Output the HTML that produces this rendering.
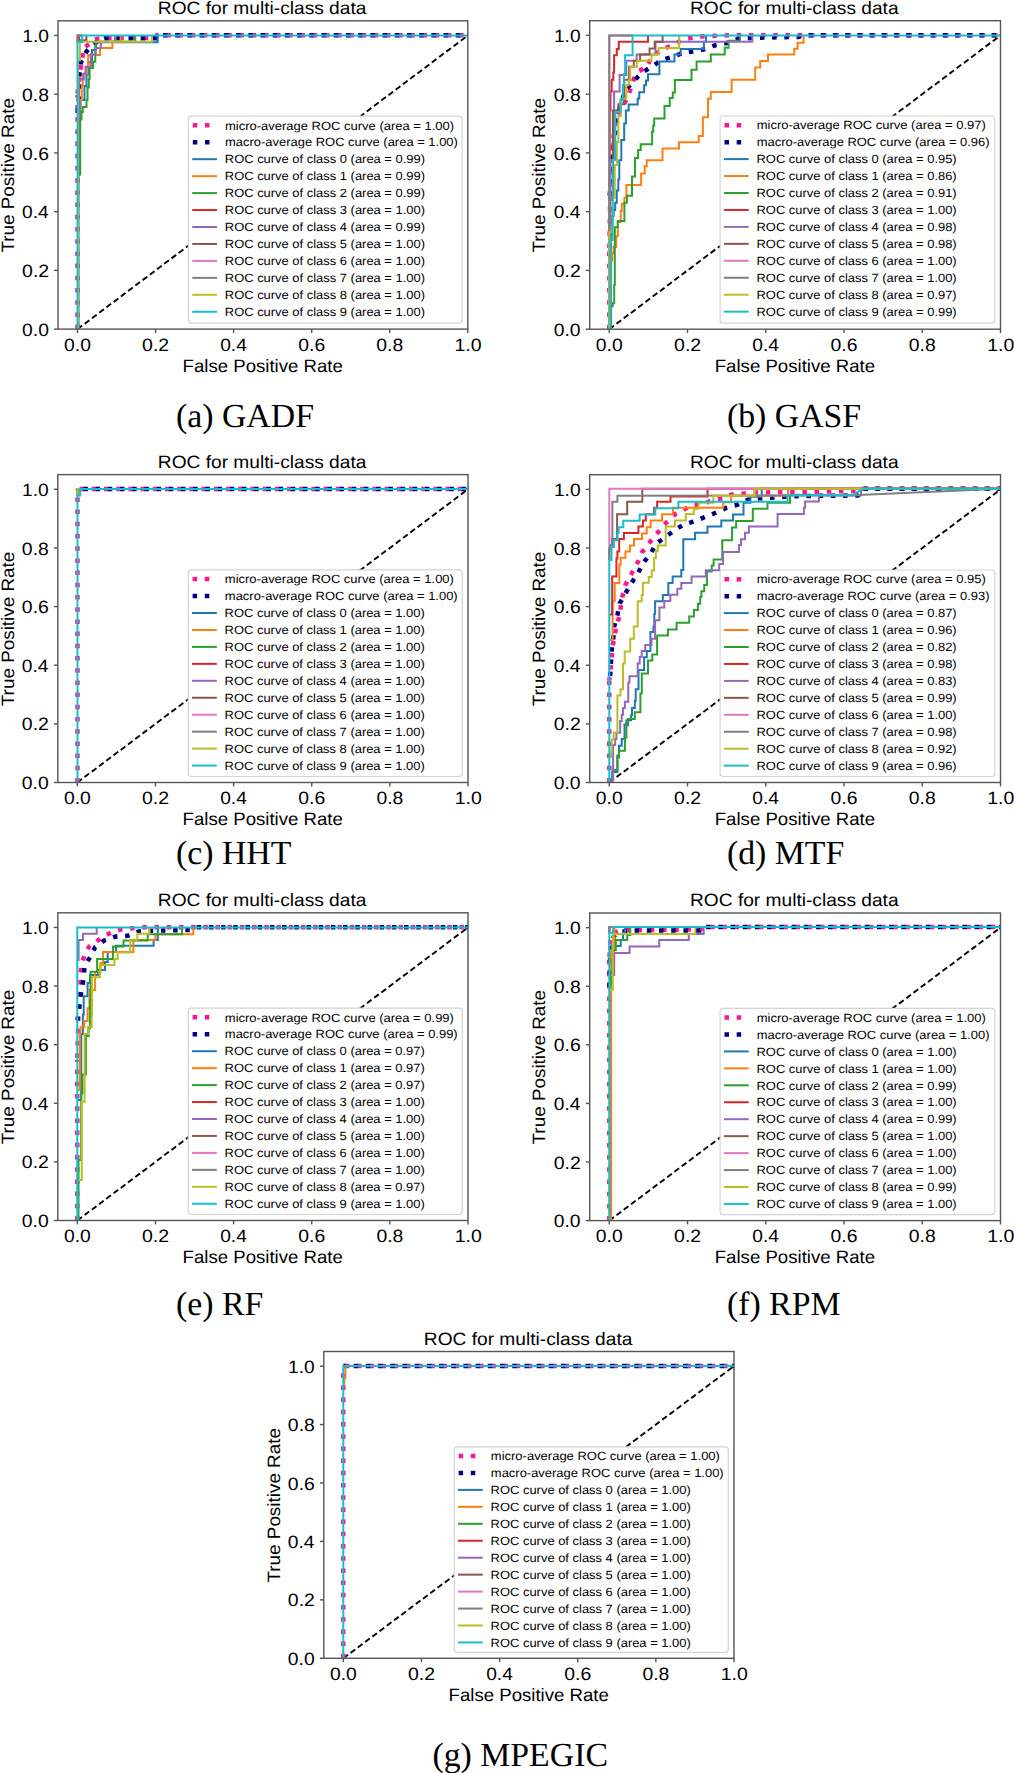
<!DOCTYPE html>
<html><head><meta charset="utf-8"><title>ROC curves</title>
<style>
html,body{margin:0;padding:0;background:#fff;}
svg{display:block;}
svg text{font-family:"Liberation Sans", sans-serif;fill:#000;text-rendering:geometricPrecision;}
svg text.cap{font-family:"Liberation Serif", serif;}
</style></head>
<body>
<svg width="1014" height="1773" viewBox="0 0 1014 1773">
<rect width="1014" height="1773" fill="#fff"/>
<clipPath id="clipa"><rect x="58" y="20.8" width="409.8" height="308.3"/></clipPath>
<g clip-path="url(#clipa)">
<line x1="77.51" y1="329.1" x2="467.8" y2="35.48" stroke="#000" stroke-width="1.9" stroke-dasharray="5.8 3.25"/>
<path d="M77.5,329.1 L77.5,95" fill="none" stroke="#ff1493" stroke-width="4.5" stroke-dasharray="4.5 7.7"/>
<path d="M77.5,95 L79,80 L80.4,69.5 L82.5,59 L82.8,48.5 L89.2,44.1 L93,40.5 L97.6,38.6 L105,37.9 L156,37.9 L157,35.3 L468.5,35.3" fill="none" stroke="#ff1493" stroke-width="4.5" stroke-dasharray="4.5 7.7" stroke-dashoffset="11.02"/>
<path d="M77.5,113 L78.8,100 L79.3,90 L79.6,73 L81.2,61.5 L86.8,51.2 L92.8,45.1 L100,39.5 L104.5,38.3 L160,38.3 L161,35.3 L468.5,35.3" fill="none" stroke="#000080" stroke-width="4.5" stroke-dasharray="4.5 7.7" stroke-dashoffset="0.09"/>
<path d="M77.5,175H77.5V175H78.6V120H80.5V100H84.5V86.1H86.5V74.5H88.5V62H92V50H95.5V42.2H157.7V35.4H157.7" fill="none" stroke="#1f77b4" stroke-width="2" stroke-linejoin="miter"/>
<path d="M77.8,150H77.8V150H79.5V100H81.8V85.7H82.8V73.9H86.5V66.4H88.2V54.9H100.1V48.1H112.4V41.8H120.6V35.4H120.6" fill="none" stroke="#ff7f0e" stroke-width="2" stroke-linejoin="miter"/>
<path d="M77.51,329.1H78.5V174.5H80.2V119H81.5V112H82.8V107H86.5V100H87.5V87.4H88.8V79H89.6V68.1H93V61.7H95.3V48.1H96V41.8H135.2V35.4H135.2" fill="none" stroke="#2ca02c" stroke-width="2" stroke-linejoin="miter"/>
<path d="M77.5,42H77.5V40.3H79.1V35.4H82" fill="none" stroke="#d62728" stroke-width="2" stroke-linejoin="miter"/>
<path d="M77.51,329.1H78.2V120H79.1V79.6H83.8V73.5H85.5V67.1H90.9V54.6H95.7V48.1H100.8V41.8H115.1V35.4H115.1" fill="none" stroke="#9467bd" stroke-width="2" stroke-linejoin="miter"/>
<path d="M77.5,42H77.5V40.3H86.4V35.4H86.4" fill="none" stroke="#8c564b" stroke-width="2" stroke-linejoin="miter"/>
<path d="M77.5,42H77.5V35.4H82" fill="none" stroke="#e377c2" stroke-width="2" stroke-linejoin="miter"/>
<path d="M77.5,42H77.5V35.4H82" fill="none" stroke="#7f7f7f" stroke-width="2" stroke-linejoin="miter"/>
<path d="M77.51,329.1H78V60.5H79.9V41.8H151.8V35.4H151.8" fill="none" stroke="#bcbd22" stroke-width="2" stroke-linejoin="miter"/>
<path d="M77.51,329.1H77.5V42H82V35.4H469.8" fill="none" stroke="#17becf" stroke-width="2" stroke-linejoin="miter"/>
</g>
<rect x="188.4" y="116.1" width="273.7" height="207" rx="3" fill="#fff" stroke="#d4d4d4" stroke-width="1.2"/>
<line x1="192.8" y1="125.3" x2="217" y2="125.3" stroke="#ff1493" stroke-width="4.5" stroke-dasharray="4.5 7.7"/>
<text x="225.06" y="129.5" font-size="12.0" textLength="229.04" lengthAdjust="spacingAndGlyphs">micro-average ROC curve (area = 1.00)</text>
<line x1="192.8" y1="142.25" x2="217" y2="142.25" stroke="#000080" stroke-width="4.5" stroke-dasharray="4.5 7.7"/>
<text x="225.06" y="146.45" font-size="12.0" textLength="232.82" lengthAdjust="spacingAndGlyphs">macro-average ROC curve (area = 1.00)</text>
<line x1="192.2" y1="159.2" x2="217" y2="159.2" stroke="#1f77b4" stroke-width="2"/>
<text x="224.83" y="163.4" font-size="12.0" textLength="200.16" lengthAdjust="spacingAndGlyphs">ROC curve of class 0 (area = 0.99)</text>
<line x1="192.2" y1="176.15" x2="217" y2="176.15" stroke="#ff7f0e" stroke-width="2"/>
<text x="224.83" y="180.35" font-size="12.0" textLength="200.16" lengthAdjust="spacingAndGlyphs">ROC curve of class 1 (area = 0.99)</text>
<line x1="192.2" y1="193.1" x2="217" y2="193.1" stroke="#2ca02c" stroke-width="2"/>
<text x="224.83" y="197.3" font-size="12.0" textLength="200.16" lengthAdjust="spacingAndGlyphs">ROC curve of class 2 (area = 0.99)</text>
<line x1="192.2" y1="210.05" x2="217" y2="210.05" stroke="#d62728" stroke-width="2"/>
<text x="224.83" y="214.25" font-size="12.0" textLength="200.16" lengthAdjust="spacingAndGlyphs">ROC curve of class 3 (area = 1.00)</text>
<line x1="192.2" y1="227" x2="217" y2="227" stroke="#9467bd" stroke-width="2"/>
<text x="224.83" y="231.2" font-size="12.0" textLength="200.16" lengthAdjust="spacingAndGlyphs">ROC curve of class 4 (area = 0.99)</text>
<line x1="192.2" y1="243.95" x2="217" y2="243.95" stroke="#8c564b" stroke-width="2"/>
<text x="224.83" y="248.15" font-size="12.0" textLength="200.16" lengthAdjust="spacingAndGlyphs">ROC curve of class 5 (area = 1.00)</text>
<line x1="192.2" y1="260.9" x2="217" y2="260.9" stroke="#e377c2" stroke-width="2"/>
<text x="224.83" y="265.1" font-size="12.0" textLength="200.16" lengthAdjust="spacingAndGlyphs">ROC curve of class 6 (area = 1.00)</text>
<line x1="192.2" y1="277.85" x2="217" y2="277.85" stroke="#7f7f7f" stroke-width="2"/>
<text x="224.83" y="282.05" font-size="12.0" textLength="200.16" lengthAdjust="spacingAndGlyphs">ROC curve of class 7 (area = 1.00)</text>
<line x1="192.2" y1="294.8" x2="217" y2="294.8" stroke="#bcbd22" stroke-width="2"/>
<text x="224.83" y="299" font-size="12.0" textLength="200.16" lengthAdjust="spacingAndGlyphs">ROC curve of class 8 (area = 1.00)</text>
<line x1="192.2" y1="311.75" x2="217" y2="311.75" stroke="#17becf" stroke-width="2"/>
<text x="224.83" y="315.95" font-size="12.0" textLength="200.16" lengthAdjust="spacingAndGlyphs">ROC curve of class 9 (area = 1.00)</text>
<rect x="58" y="20.8" width="409.8" height="308.3" fill="none" stroke="#555" stroke-width="1.4"/>
<line x1="77.51" y1="329.1" x2="77.51" y2="333" stroke="#555" stroke-width="1.4"/>
<text x="64.09" y="350.6" font-size="17.9" textLength="26.85" lengthAdjust="spacingAndGlyphs">0.0</text>
<line x1="54.1" y1="329.1" x2="58" y2="329.1" stroke="#555" stroke-width="1.4"/>
<text x="22.08" y="335.7" font-size="17.9" textLength="26.85" lengthAdjust="spacingAndGlyphs">0.0</text>
<line x1="155.57" y1="329.1" x2="155.57" y2="333" stroke="#555" stroke-width="1.4"/>
<text x="142.14" y="350.6" font-size="17.9" textLength="27.06" lengthAdjust="spacingAndGlyphs">0.2</text>
<line x1="54.1" y1="270.38" x2="58" y2="270.38" stroke="#555" stroke-width="1.4"/>
<text x="22.07" y="276.98" font-size="17.9" textLength="27.06" lengthAdjust="spacingAndGlyphs">0.2</text>
<line x1="233.63" y1="329.1" x2="233.63" y2="333" stroke="#555" stroke-width="1.4"/>
<text x="220.21" y="350.6" font-size="17.9" textLength="26.65" lengthAdjust="spacingAndGlyphs">0.4</text>
<line x1="54.1" y1="211.65" x2="58" y2="211.65" stroke="#555" stroke-width="1.4"/>
<text x="22.08" y="218.25" font-size="17.9" textLength="26.65" lengthAdjust="spacingAndGlyphs">0.4</text>
<line x1="311.69" y1="329.1" x2="311.69" y2="333" stroke="#555" stroke-width="1.4"/>
<text x="298.26" y="350.6" font-size="17.9" textLength="26.95" lengthAdjust="spacingAndGlyphs">0.6</text>
<line x1="54.1" y1="152.93" x2="58" y2="152.93" stroke="#555" stroke-width="1.4"/>
<text x="22.07" y="159.53" font-size="17.9" textLength="26.95" lengthAdjust="spacingAndGlyphs">0.6</text>
<line x1="389.74" y1="329.1" x2="389.74" y2="333" stroke="#555" stroke-width="1.4"/>
<text x="376.32" y="350.6" font-size="17.9" textLength="26.95" lengthAdjust="spacingAndGlyphs">0.8</text>
<line x1="54.1" y1="94.2" x2="58" y2="94.2" stroke="#555" stroke-width="1.4"/>
<text x="22.07" y="100.8" font-size="17.9" textLength="26.95" lengthAdjust="spacingAndGlyphs">0.8</text>
<line x1="467.8" y1="329.1" x2="467.8" y2="333" stroke="#555" stroke-width="1.4"/>
<text x="454.49" y="350.6" font-size="17.9" textLength="27.1" lengthAdjust="spacingAndGlyphs">1.0</text>
<line x1="54.1" y1="35.48" x2="58" y2="35.48" stroke="#555" stroke-width="1.4"/>
<text x="22.26" y="42.08" font-size="17.9" textLength="26.66" lengthAdjust="spacingAndGlyphs">1.0</text>
<text x="157.82" y="13.8" font-size="17.9" textLength="208.57" lengthAdjust="spacingAndGlyphs">ROC for multi-class data</text>
<text x="182.56" y="371.7" font-size="17.9" textLength="160.33" lengthAdjust="spacingAndGlyphs">False Positive Rate</text>
<text x="-77.07" y="0" font-size="17.9" textLength="154.55" lengthAdjust="spacingAndGlyphs" transform="translate(13.7 175.55) rotate(-90)">True Positive Rate</text>
<text x="176" y="427.2" class="cap" font-size="33.8" fill="#000">(a) GADF</text>
<clipPath id="clipb"><rect x="589.7" y="20.7" width="410.8" height="308.5"/></clipPath>
<g clip-path="url(#clipb)">
<line x1="609.26" y1="329.2" x2="1000.5" y2="35.39" stroke="#000" stroke-width="1.9" stroke-dasharray="5.8 3.25"/>
<path d="M609.3,329.2 L609.3,250" fill="none" stroke="#ff1493" stroke-width="4.5" stroke-dasharray="4.5 7.7"/>
<path d="M609.3,250 L610.5,180 L612,150 L615,125 L619,112 L623.1,105.7 L627.9,97.1 L631,87.6 L634.2,78.1 L638.9,71 L646.8,67.1 L650.8,58.4 L657.1,52.9 L665,48.1 L673.6,45 L682.3,39.5 L700,36.5 L730,35.3 L1001,35.3" fill="none" stroke="#ff1493" stroke-width="4.5" stroke-dasharray="4.5 7.7" stroke-dashoffset="10.17"/>
<path d="M609.4,199 L613.8,144.2 L616.9,117.3 L620.5,105 L625.5,90 L634.2,80.5 L642.1,72.6 L652.3,66.3 L661.8,60 L672.9,56.8 L683.1,52.9 L695.6,51.1 L706,49 L716.3,44.8 L727.7,42.8 L739.1,38.6 L764,37.6 L798.6,36.9 L804,35.3 L1001,35.3" fill="none" stroke="#000080" stroke-width="4.5" stroke-dasharray="4.5 7.7" stroke-dashoffset="8.86"/>
<path d="M609.26,329.2H610.7V239.3H612.2V216H613.7V210H615.2V202.8H616.8V190.6H618.3V179.4H619.3V160.2H621.3V140H624.2V123.5H625.9V110.5H628.7V104.6H637.7V98.6H639.3V92.3H644.1V85.2H646V80.5H648V74.2H659.4V61.6H674.4V54.5H680.7V48.9H703.9V41.7H706V35.4H706" fill="none" stroke="#1f77b4" stroke-width="2" stroke-linejoin="miter"/>
<path d="M609.26,329.2H610.2V260.7H612.2V253.6H613.5V247H616.2V236.3H617.8V222H620.8V211H621.8V203.8H624.4V197.7H626.4V185H641.1V173.4H644.7V166.2H646.7V160.2H662.5V148.4H679V142.2H698.7V136H702.9V117.3H708V98.7H710.8V92.1H731.6V79.7H755.2V67.4H760.2V61.1H768V54.6H794.3V48.7H797.6V42.8H803.6V35.4H803.6" fill="none" stroke="#ff7f0e" stroke-width="2" stroke-linejoin="miter"/>
<path d="M609.26,329.2H610.7V306.3H612.7V303.3H614.2V285H614.8V227.2H617.8V221.1H624.4V202.8H626.9V195.7H632V176.4H635V158.1H638.1V150H640.7V144.2H652.1V131.8H653.2V125.6H654.2V118.4H664.5V105.9H669.7V98H672.8V92.5H674.9V80.1H691.5V69.7H696.6V61.4H710.8V54.6H724.7V47.7H728.6V40.8H740V35.4H740" fill="none" stroke="#2ca02c" stroke-width="2" stroke-linejoin="miter"/>
<path d="M609.26,329.2H609.7V110.5H610.5V91.5H611.7V79.7H613.3V72.6H614.1V55.2H616.8V48.9H618.8V41.8H648V35.4H648" fill="none" stroke="#d62728" stroke-width="2" stroke-linejoin="miter"/>
<path d="M609.26,329.2H610.2V160H614.1V91.5H619.6V75H626.3V60.8H636.6V54.5H655.5V41.8H752.3V35.4H752.3" fill="none" stroke="#9467bd" stroke-width="2" stroke-linejoin="miter"/>
<path d="M609.26,329.2H609.6V200H612.9V110.5H618.4V104.2H624.3V79.7H629.1V66.7H633.8V60.8H640.1V54.5H649.6V48.5H654.7V41.8H662.6V35.4H662.6" fill="none" stroke="#8c564b" stroke-width="2" stroke-linejoin="miter"/>
<path d="M609.26,329.2H609.3V35.4H632.6" fill="none" stroke="#e377c2" stroke-width="2" stroke-linejoin="miter"/>
<path d="M609.26,329.2H609.3V35.4H632.6" fill="none" stroke="#7f7f7f" stroke-width="2" stroke-linejoin="miter"/>
<path d="M609.26,329.2H609.3V232H611.7V227H612.8V198H614.8V165H616.9V142H618.4V116H620.8V98.6H626.3V85.2H628.7V80.5H630.2V66.7H637V60.8H651.5V54.5H658.6V48.1H679.2V35.4H679.2" fill="none" stroke="#bcbd22" stroke-width="2" stroke-linejoin="miter"/>
<path d="M609.26,329.2H610.2V240H612.5V160H615.3V112H620.4V100H622.8V85H623.9V74.2H625.1V55.2H632.6V35.4H1002.5" fill="none" stroke="#17becf" stroke-width="2" stroke-linejoin="miter"/>
</g>
<rect x="720.1" y="116" width="274.7" height="207.2" rx="3" fill="#fff" stroke="#d4d4d4" stroke-width="1.2"/>
<line x1="724.5" y1="125.2" x2="748.7" y2="125.2" stroke="#ff1493" stroke-width="4.5" stroke-dasharray="4.5 7.7"/>
<text x="756.76" y="129.4" font-size="12.0" textLength="229.04" lengthAdjust="spacingAndGlyphs">micro-average ROC curve (area = 0.97)</text>
<line x1="724.5" y1="142.15" x2="748.7" y2="142.15" stroke="#000080" stroke-width="4.5" stroke-dasharray="4.5 7.7"/>
<text x="756.76" y="146.35" font-size="12.0" textLength="232.82" lengthAdjust="spacingAndGlyphs">macro-average ROC curve (area = 0.96)</text>
<line x1="723.9" y1="159.1" x2="748.7" y2="159.1" stroke="#1f77b4" stroke-width="2"/>
<text x="756.53" y="163.3" font-size="12.0" textLength="200.16" lengthAdjust="spacingAndGlyphs">ROC curve of class 0 (area = 0.95)</text>
<line x1="723.9" y1="176.05" x2="748.7" y2="176.05" stroke="#ff7f0e" stroke-width="2"/>
<text x="756.53" y="180.25" font-size="12.0" textLength="200.16" lengthAdjust="spacingAndGlyphs">ROC curve of class 1 (area = 0.86)</text>
<line x1="723.9" y1="193" x2="748.7" y2="193" stroke="#2ca02c" stroke-width="2"/>
<text x="756.53" y="197.2" font-size="12.0" textLength="200.16" lengthAdjust="spacingAndGlyphs">ROC curve of class 2 (area = 0.91)</text>
<line x1="723.9" y1="209.95" x2="748.7" y2="209.95" stroke="#d62728" stroke-width="2"/>
<text x="756.53" y="214.15" font-size="12.0" textLength="200.16" lengthAdjust="spacingAndGlyphs">ROC curve of class 3 (area = 1.00)</text>
<line x1="723.9" y1="226.9" x2="748.7" y2="226.9" stroke="#9467bd" stroke-width="2"/>
<text x="756.53" y="231.1" font-size="12.0" textLength="200.16" lengthAdjust="spacingAndGlyphs">ROC curve of class 4 (area = 0.98)</text>
<line x1="723.9" y1="243.85" x2="748.7" y2="243.85" stroke="#8c564b" stroke-width="2"/>
<text x="756.53" y="248.05" font-size="12.0" textLength="200.16" lengthAdjust="spacingAndGlyphs">ROC curve of class 5 (area = 0.98)</text>
<line x1="723.9" y1="260.8" x2="748.7" y2="260.8" stroke="#e377c2" stroke-width="2"/>
<text x="756.53" y="265" font-size="12.0" textLength="200.16" lengthAdjust="spacingAndGlyphs">ROC curve of class 6 (area = 1.00)</text>
<line x1="723.9" y1="277.75" x2="748.7" y2="277.75" stroke="#7f7f7f" stroke-width="2"/>
<text x="756.53" y="281.95" font-size="12.0" textLength="200.16" lengthAdjust="spacingAndGlyphs">ROC curve of class 7 (area = 1.00)</text>
<line x1="723.9" y1="294.7" x2="748.7" y2="294.7" stroke="#bcbd22" stroke-width="2"/>
<text x="756.53" y="298.9" font-size="12.0" textLength="200.16" lengthAdjust="spacingAndGlyphs">ROC curve of class 8 (area = 0.97)</text>
<line x1="723.9" y1="311.65" x2="748.7" y2="311.65" stroke="#17becf" stroke-width="2"/>
<text x="756.53" y="315.85" font-size="12.0" textLength="200.16" lengthAdjust="spacingAndGlyphs">ROC curve of class 9 (area = 0.99)</text>
<rect x="589.7" y="20.7" width="410.8" height="308.5" fill="none" stroke="#555" stroke-width="1.4"/>
<line x1="609.26" y1="329.2" x2="609.26" y2="333.1" stroke="#555" stroke-width="1.4"/>
<text x="595.84" y="350.7" font-size="17.9" textLength="26.85" lengthAdjust="spacingAndGlyphs">0.0</text>
<line x1="585.8" y1="329.2" x2="589.7" y2="329.2" stroke="#555" stroke-width="1.4"/>
<text x="553.78" y="335.8" font-size="17.9" textLength="26.85" lengthAdjust="spacingAndGlyphs">0.0</text>
<line x1="687.51" y1="329.2" x2="687.51" y2="333.1" stroke="#555" stroke-width="1.4"/>
<text x="674.08" y="350.7" font-size="17.9" textLength="27.06" lengthAdjust="spacingAndGlyphs">0.2</text>
<line x1="585.8" y1="270.44" x2="589.7" y2="270.44" stroke="#555" stroke-width="1.4"/>
<text x="553.77" y="277.04" font-size="17.9" textLength="27.06" lengthAdjust="spacingAndGlyphs">0.2</text>
<line x1="765.76" y1="329.2" x2="765.76" y2="333.1" stroke="#555" stroke-width="1.4"/>
<text x="752.34" y="350.7" font-size="17.9" textLength="26.65" lengthAdjust="spacingAndGlyphs">0.4</text>
<line x1="585.8" y1="211.68" x2="589.7" y2="211.68" stroke="#555" stroke-width="1.4"/>
<text x="553.78" y="218.28" font-size="17.9" textLength="26.65" lengthAdjust="spacingAndGlyphs">0.4</text>
<line x1="844" y1="329.2" x2="844" y2="333.1" stroke="#555" stroke-width="1.4"/>
<text x="830.58" y="350.7" font-size="17.9" textLength="26.95" lengthAdjust="spacingAndGlyphs">0.6</text>
<line x1="585.8" y1="152.91" x2="589.7" y2="152.91" stroke="#555" stroke-width="1.4"/>
<text x="553.77" y="159.51" font-size="17.9" textLength="26.95" lengthAdjust="spacingAndGlyphs">0.6</text>
<line x1="922.25" y1="329.2" x2="922.25" y2="333.1" stroke="#555" stroke-width="1.4"/>
<text x="908.83" y="350.7" font-size="17.9" textLength="26.95" lengthAdjust="spacingAndGlyphs">0.8</text>
<line x1="585.8" y1="94.15" x2="589.7" y2="94.15" stroke="#555" stroke-width="1.4"/>
<text x="553.77" y="100.75" font-size="17.9" textLength="26.95" lengthAdjust="spacingAndGlyphs">0.8</text>
<line x1="1000.5" y1="329.2" x2="1000.5" y2="333.1" stroke="#555" stroke-width="1.4"/>
<text x="987.19" y="350.7" font-size="17.9" textLength="27.1" lengthAdjust="spacingAndGlyphs">1.0</text>
<line x1="585.8" y1="35.39" x2="589.7" y2="35.39" stroke="#555" stroke-width="1.4"/>
<text x="553.96" y="41.99" font-size="17.9" textLength="26.66" lengthAdjust="spacingAndGlyphs">1.0</text>
<text x="690.02" y="13.7" font-size="17.9" textLength="208.57" lengthAdjust="spacingAndGlyphs">ROC for multi-class data</text>
<text x="714.76" y="371.8" font-size="17.9" textLength="160.33" lengthAdjust="spacingAndGlyphs">False Positive Rate</text>
<text x="-77.07" y="0" font-size="17.9" textLength="154.55" lengthAdjust="spacingAndGlyphs" transform="translate(545.4 175.55) rotate(-90)">True Positive Rate</text>
<text x="726.9" y="427.2" class="cap" font-size="33.8" fill="#000">(b) GASF</text>
<clipPath id="clipc"><rect x="57.8" y="474.6" width="410.2" height="307.9"/></clipPath>
<g clip-path="url(#clipc)">
<line x1="77.33" y1="782.5" x2="468" y2="489.26" stroke="#000" stroke-width="1.9" stroke-dasharray="5.8 3.25"/>
<path d="M77.5,782.5 L77.5,489" fill="none" stroke="#ff1493" stroke-width="4.5" stroke-dasharray="4.5 7.7"/>
<path d="M77.5,489 L469,489" fill="none" stroke="#ff1493" stroke-width="4.5" stroke-dasharray="4.5 7.7" stroke-dashoffset="10.1"/>
<path d="M77.5,489 L469,489" fill="none" stroke="#000080" stroke-width="4.5" stroke-dasharray="4.5 7.7" stroke-dashoffset="6.3"/>
<path d="M77.5,495.4H77.5V489H80.1" fill="none" stroke="#1f77b4" stroke-width="2" stroke-linejoin="miter"/>
<path d="M77.5,495.4H77.5V489H80.1" fill="none" stroke="#ff7f0e" stroke-width="2" stroke-linejoin="miter"/>
<path d="M77.5,495.4H77.5V489H80.1" fill="none" stroke="#2ca02c" stroke-width="2" stroke-linejoin="miter"/>
<path d="M77.5,495.4H77.5V489H80.1" fill="none" stroke="#d62728" stroke-width="2" stroke-linejoin="miter"/>
<path d="M77.5,495.4H77.5V489H80.1" fill="none" stroke="#9467bd" stroke-width="2" stroke-linejoin="miter"/>
<path d="M77.5,495.4H77.5V489H80.1" fill="none" stroke="#8c564b" stroke-width="2" stroke-linejoin="miter"/>
<path d="M77.5,495.4H77.5V489H80.1" fill="none" stroke="#e377c2" stroke-width="2" stroke-linejoin="miter"/>
<path d="M77.5,495.4H77.5V489H80.1" fill="none" stroke="#7f7f7f" stroke-width="2" stroke-linejoin="miter"/>
<path d="M77.5,495.4H77.5V489H80.1" fill="none" stroke="#bcbd22" stroke-width="2" stroke-linejoin="miter"/>
<path d="M77.33,782.5H77.5V495.4H80.1V489H470" fill="none" stroke="#17becf" stroke-width="2" stroke-linejoin="miter"/>
</g>
<rect x="188.2" y="569.9" width="274.1" height="206.6" rx="3" fill="#fff" stroke="#d4d4d4" stroke-width="1.2"/>
<line x1="192.6" y1="579.1" x2="216.8" y2="579.1" stroke="#ff1493" stroke-width="4.5" stroke-dasharray="4.5 7.7"/>
<text x="224.86" y="583.3" font-size="12.0" textLength="229.04" lengthAdjust="spacingAndGlyphs">micro-average ROC curve (area = 1.00)</text>
<line x1="192.6" y1="596.05" x2="216.8" y2="596.05" stroke="#000080" stroke-width="4.5" stroke-dasharray="4.5 7.7"/>
<text x="224.86" y="600.25" font-size="12.0" textLength="232.82" lengthAdjust="spacingAndGlyphs">macro-average ROC curve (area = 1.00)</text>
<line x1="192" y1="613" x2="216.8" y2="613" stroke="#1f77b4" stroke-width="2"/>
<text x="224.63" y="617.2" font-size="12.0" textLength="200.16" lengthAdjust="spacingAndGlyphs">ROC curve of class 0 (area = 1.00)</text>
<line x1="192" y1="629.95" x2="216.8" y2="629.95" stroke="#ff7f0e" stroke-width="2"/>
<text x="224.63" y="634.15" font-size="12.0" textLength="200.16" lengthAdjust="spacingAndGlyphs">ROC curve of class 1 (area = 1.00)</text>
<line x1="192" y1="646.9" x2="216.8" y2="646.9" stroke="#2ca02c" stroke-width="2"/>
<text x="224.63" y="651.1" font-size="12.0" textLength="200.16" lengthAdjust="spacingAndGlyphs">ROC curve of class 2 (area = 1.00)</text>
<line x1="192" y1="663.85" x2="216.8" y2="663.85" stroke="#d62728" stroke-width="2"/>
<text x="224.63" y="668.05" font-size="12.0" textLength="200.16" lengthAdjust="spacingAndGlyphs">ROC curve of class 3 (area = 1.00)</text>
<line x1="192" y1="680.8" x2="216.8" y2="680.8" stroke="#9467bd" stroke-width="2"/>
<text x="224.63" y="685" font-size="12.0" textLength="200.16" lengthAdjust="spacingAndGlyphs">ROC curve of class 4 (area = 1.00)</text>
<line x1="192" y1="697.75" x2="216.8" y2="697.75" stroke="#8c564b" stroke-width="2"/>
<text x="224.63" y="701.95" font-size="12.0" textLength="200.16" lengthAdjust="spacingAndGlyphs">ROC curve of class 5 (area = 1.00)</text>
<line x1="192" y1="714.7" x2="216.8" y2="714.7" stroke="#e377c2" stroke-width="2"/>
<text x="224.63" y="718.9" font-size="12.0" textLength="200.16" lengthAdjust="spacingAndGlyphs">ROC curve of class 6 (area = 1.00)</text>
<line x1="192" y1="731.65" x2="216.8" y2="731.65" stroke="#7f7f7f" stroke-width="2"/>
<text x="224.63" y="735.85" font-size="12.0" textLength="200.16" lengthAdjust="spacingAndGlyphs">ROC curve of class 7 (area = 1.00)</text>
<line x1="192" y1="748.6" x2="216.8" y2="748.6" stroke="#bcbd22" stroke-width="2"/>
<text x="224.63" y="752.8" font-size="12.0" textLength="200.16" lengthAdjust="spacingAndGlyphs">ROC curve of class 8 (area = 1.00)</text>
<line x1="192" y1="765.55" x2="216.8" y2="765.55" stroke="#17becf" stroke-width="2"/>
<text x="224.63" y="769.75" font-size="12.0" textLength="200.16" lengthAdjust="spacingAndGlyphs">ROC curve of class 9 (area = 1.00)</text>
<rect x="57.8" y="474.6" width="410.2" height="307.9" fill="none" stroke="#555" stroke-width="1.4"/>
<line x1="77.33" y1="782.5" x2="77.33" y2="786.4" stroke="#555" stroke-width="1.4"/>
<text x="63.91" y="804" font-size="17.9" textLength="26.85" lengthAdjust="spacingAndGlyphs">0.0</text>
<line x1="53.9" y1="782.5" x2="57.8" y2="782.5" stroke="#555" stroke-width="1.4"/>
<text x="21.88" y="789.1" font-size="17.9" textLength="26.85" lengthAdjust="spacingAndGlyphs">0.0</text>
<line x1="155.47" y1="782.5" x2="155.47" y2="786.4" stroke="#555" stroke-width="1.4"/>
<text x="142.04" y="804" font-size="17.9" textLength="27.06" lengthAdjust="spacingAndGlyphs">0.2</text>
<line x1="53.9" y1="723.85" x2="57.8" y2="723.85" stroke="#555" stroke-width="1.4"/>
<text x="21.87" y="730.45" font-size="17.9" textLength="27.06" lengthAdjust="spacingAndGlyphs">0.2</text>
<line x1="233.6" y1="782.5" x2="233.6" y2="786.4" stroke="#555" stroke-width="1.4"/>
<text x="220.18" y="804" font-size="17.9" textLength="26.65" lengthAdjust="spacingAndGlyphs">0.4</text>
<line x1="53.9" y1="665.2" x2="57.8" y2="665.2" stroke="#555" stroke-width="1.4"/>
<text x="21.88" y="671.8" font-size="17.9" textLength="26.65" lengthAdjust="spacingAndGlyphs">0.4</text>
<line x1="311.73" y1="782.5" x2="311.73" y2="786.4" stroke="#555" stroke-width="1.4"/>
<text x="298.31" y="804" font-size="17.9" textLength="26.95" lengthAdjust="spacingAndGlyphs">0.6</text>
<line x1="53.9" y1="606.56" x2="57.8" y2="606.56" stroke="#555" stroke-width="1.4"/>
<text x="21.87" y="613.16" font-size="17.9" textLength="26.95" lengthAdjust="spacingAndGlyphs">0.6</text>
<line x1="389.87" y1="782.5" x2="389.87" y2="786.4" stroke="#555" stroke-width="1.4"/>
<text x="376.44" y="804" font-size="17.9" textLength="26.95" lengthAdjust="spacingAndGlyphs">0.8</text>
<line x1="53.9" y1="547.91" x2="57.8" y2="547.91" stroke="#555" stroke-width="1.4"/>
<text x="21.87" y="554.51" font-size="17.9" textLength="26.95" lengthAdjust="spacingAndGlyphs">0.8</text>
<line x1="468" y1="782.5" x2="468" y2="786.4" stroke="#555" stroke-width="1.4"/>
<text x="454.69" y="804" font-size="17.9" textLength="27.1" lengthAdjust="spacingAndGlyphs">1.0</text>
<line x1="53.9" y1="489.26" x2="57.8" y2="489.26" stroke="#555" stroke-width="1.4"/>
<text x="22.06" y="495.86" font-size="17.9" textLength="26.66" lengthAdjust="spacingAndGlyphs">1.0</text>
<text x="157.82" y="467.6" font-size="17.9" textLength="208.57" lengthAdjust="spacingAndGlyphs">ROC for multi-class data</text>
<text x="182.56" y="825.1" font-size="17.9" textLength="160.33" lengthAdjust="spacingAndGlyphs">False Positive Rate</text>
<text x="-77.07" y="0" font-size="17.9" textLength="154.55" lengthAdjust="spacingAndGlyphs" transform="translate(13.5 629.15) rotate(-90)">True Positive Rate</text>
<text x="176" y="863.9" class="cap" font-size="33.8" fill="#000">(c) HHT</text>
<clipPath id="clipd"><rect x="589.7" y="474.7" width="410.8" height="307.8"/></clipPath>
<g clip-path="url(#clipd)">
<line x1="609.26" y1="782.5" x2="1000.5" y2="489.36" stroke="#000" stroke-width="1.9" stroke-dasharray="5.8 3.25"/>
<path d="M609.3,782.5 L609.3,680" fill="none" stroke="#ff1493" stroke-width="4.5" stroke-dasharray="4.5 7.7"/>
<path d="M609.3,680 L610.5,669.9 L611.7,658.1 L612.5,647.1 L614.5,636 L616.4,626.5 L619.2,617.1 L620.8,606.8 L622.4,596.6 L625.1,585.5 L629.3,577.5 L634,569.2 L638.1,561.5 L641.7,552.7 L647,545.6 L652.3,539.1 L658.3,532 L663.6,524.9 L670,519.5 L675.9,513.6 L684.8,509.1 L693.7,504.7 L703.5,504.2 L712.4,499.8 L722.3,498.3 L732.1,494.4 L744,493.4 L755.8,492.4 L767.6,492.4 L860,491 L862,488.7 L1001,488.7" fill="none" stroke="#ff1493" stroke-width="4.5" stroke-dasharray="4.5 7.7" stroke-dashoffset="1.72"/>
<path d="M609.5,680 L610.3,673.6 L611,661.8 L611.8,649.2 L613.4,637.3 L614.2,626.3 L617.4,615.2 L619.7,603.4 L625.2,593.9 L631.6,582.9 L637.9,573.4 L642.9,563.3 L650.6,553.8 L655.9,543.8 L664.2,537.9 L674.4,530.4 L683.8,524.4 L695.6,521 L706,516.5 L716.4,512.6 L726.7,507.7 L737.6,504.7 L747.9,499.8 L759.7,498.3 L769.6,497.8 L800,496 L858,495.5 L862,488.7 L1001,488.7" fill="none" stroke="#000080" stroke-width="4.5" stroke-dasharray="4.5 7.7" stroke-dashoffset="8.19"/>
<path d="M609.26,782.5H612.2V772H617.4V755.6H619V745.7H621.7V738.9H624.5V724.6H626.4V720.3H631.1V715.3H632V707.9H634.8V701.1H635.7V689.3H638.5V670H644.1V657.3H646.8V651H650.4V632.1H653.5V626.5H654.3V613.9H655.1V601.3H662.8V595.1H668.3V582.9H672.6V576.6H681.3V569.9H683.3V539.2H695.1V532.8H707.5V526.4H721.3V520.5H733.1V514.6H743.5V502.7H750.4V496.8H761.7V488.7H1002.5" fill="none" stroke="#1f77b4" stroke-width="2" stroke-linejoin="miter"/>
<path d="M609.3,640H609.3V640H612.6V601.3H614.7V582.9H619.3V564.5H620.7V557.7H625.4V551.5H629.9V545.6H634V539.1H642V533.4H646.7V527.2H650.6V520.4H662.1V514.2H673V507.7H723.3V502.2H731.1V495.8H788V488.7H1002.5" fill="none" stroke="#ff7f0e" stroke-width="2" stroke-linejoin="miter"/>
<path d="M609.26,782.5H612.2V778H612.8V769.9H617.4V757.5H619V750.7H624.9V737.7H626.4V725.2H628V719H634.8V712.2H640.4V693.6H641.8V673.5H648V660.5H652.3V654.6H657.1V635.6H667.9V629.4H676.6V622.7H689.2V616.4H693.9V610.1H697.9V603.8H700.2V597H701.4V591.2H704.2V584.9H706.9V571.4H711.7V565.5H713.6V559.4H722.3V540.2H732.1V527.4H736.1V521H752.8V508.7H767.5V502.8H790V495.3H861V488.7H1002.5" fill="none" stroke="#2ca02c" stroke-width="2" stroke-linejoin="miter"/>
<path d="M609.3,614.5H609.3V614.5H612.2V576.6H616.4V558.6H617.4V551.5H619.2V539.1H623.9V533.1H638.4V526.6H642.9V520.4H645.8V514.2H654.1V507.7H657.1V501.8H670.5V496.6H707.5V488.7H1002.5" fill="none" stroke="#d62728" stroke-width="2" stroke-linejoin="miter"/>
<path d="M609.26,782.5H612.5V779H613.1V745.1H615.2V738.9H616.5V732.7H620.2V720.9H621.7V714.7H623V707.9H624.9V701.7H628.3V682.4H629.5V676.3H637.7V663.6H639.7V657H641.7V651H645.2V645.1H651.5V638.8H655.1V620.2H659.4V607.6H664.3V601H670.3V594.7H677.4V588.8H681.3V582.9H691.6V576.6H705.8V570.3H719.2V563.9H723.1V552H739V545.1H741V539.2H745V532.8H748.9V526.4H777.6V514.1H803.9V507.8H805.1V501.5H818.9V495.3H861V488.7H1002.5" fill="none" stroke="#9467bd" stroke-width="2" stroke-linejoin="miter"/>
<path d="M609.3,560H609.3V550H610.6V546.2H612.1V539.1H617.1V514.2H627.2V501.8H642.3V488.7H1002.5" fill="none" stroke="#8c564b" stroke-width="2" stroke-linejoin="miter"/>
<path d="M609.3,560H609.3V488.7H1002.5" fill="none" stroke="#e377c2" stroke-width="2" stroke-linejoin="miter"/>
<path d="M609.3,560H609.3V548H610.5V545H612.4V501.8H617.4V495.8L852.7,495.3L1000.5,488.7H1002.5" fill="none" stroke="#7f7f7f" stroke-width="2" stroke-linejoin="miter"/>
<path d="M609.3,757H609.3V757H611.2V752H611.8V739.5H613.7V732.7H617.4V695.5H620.5V689.3H623V663.6H624.7V651.4H630.2V638.8H633.8V626.5H637.7V601.3H641.7V595H642.9V582.8H648.8V576.9H651.7V570.4H654.1V558H655.9V551H657.7V545.6H665.7V526.6H674.9V520.5H685.8V514.1H693.7V508.7H698.6V502.7H713.4V495.8H754.8V488.7H1002.5" fill="none" stroke="#bcbd22" stroke-width="2" stroke-linejoin="miter"/>
<path d="M609.26,782.5H609.3V560H611.5V547H613.9V540.2H617.4V533.1H618.6V527.2H623.3V520.7H639.6V514.5H655.3V508.3H678.4V501.8H787.6V495.3L852.7,495.3L861.5,489.5L870,488.7H1002.5" fill="none" stroke="#17becf" stroke-width="2" stroke-linejoin="miter"/>
</g>
<rect x="720.1" y="570" width="274.7" height="206.5" rx="3" fill="#fff" stroke="#d4d4d4" stroke-width="1.2"/>
<line x1="724.5" y1="579.2" x2="748.7" y2="579.2" stroke="#ff1493" stroke-width="4.5" stroke-dasharray="4.5 7.7"/>
<text x="756.76" y="583.4" font-size="12.0" textLength="229.04" lengthAdjust="spacingAndGlyphs">micro-average ROC curve (area = 0.95)</text>
<line x1="724.5" y1="596.15" x2="748.7" y2="596.15" stroke="#000080" stroke-width="4.5" stroke-dasharray="4.5 7.7"/>
<text x="756.76" y="600.35" font-size="12.0" textLength="232.82" lengthAdjust="spacingAndGlyphs">macro-average ROC curve (area = 0.93)</text>
<line x1="723.9" y1="613.1" x2="748.7" y2="613.1" stroke="#1f77b4" stroke-width="2"/>
<text x="756.53" y="617.3" font-size="12.0" textLength="200.16" lengthAdjust="spacingAndGlyphs">ROC curve of class 0 (area = 0.87)</text>
<line x1="723.9" y1="630.05" x2="748.7" y2="630.05" stroke="#ff7f0e" stroke-width="2"/>
<text x="756.53" y="634.25" font-size="12.0" textLength="200.16" lengthAdjust="spacingAndGlyphs">ROC curve of class 1 (area = 0.96)</text>
<line x1="723.9" y1="647" x2="748.7" y2="647" stroke="#2ca02c" stroke-width="2"/>
<text x="756.53" y="651.2" font-size="12.0" textLength="200.16" lengthAdjust="spacingAndGlyphs">ROC curve of class 2 (area = 0.82)</text>
<line x1="723.9" y1="663.95" x2="748.7" y2="663.95" stroke="#d62728" stroke-width="2"/>
<text x="756.53" y="668.15" font-size="12.0" textLength="200.16" lengthAdjust="spacingAndGlyphs">ROC curve of class 3 (area = 0.98)</text>
<line x1="723.9" y1="680.9" x2="748.7" y2="680.9" stroke="#9467bd" stroke-width="2"/>
<text x="756.53" y="685.1" font-size="12.0" textLength="200.16" lengthAdjust="spacingAndGlyphs">ROC curve of class 4 (area = 0.83)</text>
<line x1="723.9" y1="697.85" x2="748.7" y2="697.85" stroke="#8c564b" stroke-width="2"/>
<text x="756.53" y="702.05" font-size="12.0" textLength="200.16" lengthAdjust="spacingAndGlyphs">ROC curve of class 5 (area = 0.99)</text>
<line x1="723.9" y1="714.8" x2="748.7" y2="714.8" stroke="#e377c2" stroke-width="2"/>
<text x="756.53" y="719" font-size="12.0" textLength="200.16" lengthAdjust="spacingAndGlyphs">ROC curve of class 6 (area = 1.00)</text>
<line x1="723.9" y1="731.75" x2="748.7" y2="731.75" stroke="#7f7f7f" stroke-width="2"/>
<text x="756.53" y="735.95" font-size="12.0" textLength="200.16" lengthAdjust="spacingAndGlyphs">ROC curve of class 7 (area = 0.98)</text>
<line x1="723.9" y1="748.7" x2="748.7" y2="748.7" stroke="#bcbd22" stroke-width="2"/>
<text x="756.53" y="752.9" font-size="12.0" textLength="200.16" lengthAdjust="spacingAndGlyphs">ROC curve of class 8 (area = 0.92)</text>
<line x1="723.9" y1="765.65" x2="748.7" y2="765.65" stroke="#17becf" stroke-width="2"/>
<text x="756.53" y="769.85" font-size="12.0" textLength="200.16" lengthAdjust="spacingAndGlyphs">ROC curve of class 9 (area = 0.96)</text>
<rect x="589.7" y="474.7" width="410.8" height="307.8" fill="none" stroke="#555" stroke-width="1.4"/>
<line x1="609.26" y1="782.5" x2="609.26" y2="786.4" stroke="#555" stroke-width="1.4"/>
<text x="595.84" y="804" font-size="17.9" textLength="26.85" lengthAdjust="spacingAndGlyphs">0.0</text>
<line x1="585.8" y1="782.5" x2="589.7" y2="782.5" stroke="#555" stroke-width="1.4"/>
<text x="553.78" y="789.1" font-size="17.9" textLength="26.85" lengthAdjust="spacingAndGlyphs">0.0</text>
<line x1="687.51" y1="782.5" x2="687.51" y2="786.4" stroke="#555" stroke-width="1.4"/>
<text x="674.08" y="804" font-size="17.9" textLength="27.06" lengthAdjust="spacingAndGlyphs">0.2</text>
<line x1="585.8" y1="723.87" x2="589.7" y2="723.87" stroke="#555" stroke-width="1.4"/>
<text x="553.77" y="730.47" font-size="17.9" textLength="27.06" lengthAdjust="spacingAndGlyphs">0.2</text>
<line x1="765.76" y1="782.5" x2="765.76" y2="786.4" stroke="#555" stroke-width="1.4"/>
<text x="752.34" y="804" font-size="17.9" textLength="26.65" lengthAdjust="spacingAndGlyphs">0.4</text>
<line x1="585.8" y1="665.24" x2="589.7" y2="665.24" stroke="#555" stroke-width="1.4"/>
<text x="553.78" y="671.84" font-size="17.9" textLength="26.65" lengthAdjust="spacingAndGlyphs">0.4</text>
<line x1="844" y1="782.5" x2="844" y2="786.4" stroke="#555" stroke-width="1.4"/>
<text x="830.58" y="804" font-size="17.9" textLength="26.95" lengthAdjust="spacingAndGlyphs">0.6</text>
<line x1="585.8" y1="606.61" x2="589.7" y2="606.61" stroke="#555" stroke-width="1.4"/>
<text x="553.77" y="613.21" font-size="17.9" textLength="26.95" lengthAdjust="spacingAndGlyphs">0.6</text>
<line x1="922.25" y1="782.5" x2="922.25" y2="786.4" stroke="#555" stroke-width="1.4"/>
<text x="908.83" y="804" font-size="17.9" textLength="26.95" lengthAdjust="spacingAndGlyphs">0.8</text>
<line x1="585.8" y1="547.99" x2="589.7" y2="547.99" stroke="#555" stroke-width="1.4"/>
<text x="553.77" y="554.59" font-size="17.9" textLength="26.95" lengthAdjust="spacingAndGlyphs">0.8</text>
<line x1="1000.5" y1="782.5" x2="1000.5" y2="786.4" stroke="#555" stroke-width="1.4"/>
<text x="987.19" y="804" font-size="17.9" textLength="27.1" lengthAdjust="spacingAndGlyphs">1.0</text>
<line x1="585.8" y1="489.36" x2="589.7" y2="489.36" stroke="#555" stroke-width="1.4"/>
<text x="553.96" y="495.96" font-size="17.9" textLength="26.66" lengthAdjust="spacingAndGlyphs">1.0</text>
<text x="690.02" y="467.7" font-size="17.9" textLength="208.57" lengthAdjust="spacingAndGlyphs">ROC for multi-class data</text>
<text x="714.76" y="825.1" font-size="17.9" textLength="160.33" lengthAdjust="spacingAndGlyphs">False Positive Rate</text>
<text x="-77.07" y="0" font-size="17.9" textLength="154.55" lengthAdjust="spacingAndGlyphs" transform="translate(545.4 629.2) rotate(-90)">True Positive Rate</text>
<text x="726.9" y="863.9" class="cap" font-size="33.8" fill="#000">(d) MTF</text>
<clipPath id="clipe"><rect x="57.8" y="912.8" width="410.2" height="307.7"/></clipPath>
<g clip-path="url(#clipe)">
<line x1="77.33" y1="1220.5" x2="468" y2="927.45" stroke="#000" stroke-width="1.9" stroke-dasharray="5.8 3.25"/>
<path d="M77.3,1220.5 L77.3,1060" fill="none" stroke="#ff1493" stroke-width="4.5" stroke-dasharray="4.5 7.7"/>
<path d="M77.3,1060 L78.5,1010 L79.7,997 L80.5,985.1 L80.5,974.1 L82.1,962.2 L85.3,953.6 L89.2,946.5 L96.3,941.7 L103.4,936.2 L112.1,932.3 L120.8,929.5 L132.6,928.3 L144,927.3 L468.5,927.3" fill="none" stroke="#ff1493" stroke-width="4.5" stroke-dasharray="4.5 7.7" stroke-dashoffset="9.89"/>
<path d="M77.4,1020 L78.8,1013 L79.8,1001.5 L81.5,990.6 L83.7,978.4 L84.5,966.2 L90.4,956.7 L95.1,947.2 L104.2,940.5 L115.6,936.6 L127.5,935.8 L138.9,931.5 L150.7,930.7 L190,930 L194,927.3 L468.5,927.3" fill="none" stroke="#000080" stroke-width="4.5" stroke-dasharray="4.5 7.7" stroke-dashoffset="0.76"/>
<path d="M77.3,1100H77.3V1100H81.2V1034H82.9V1014.4H83.7V996.2H87.6V983.1H90V975H97.9V970H105V962H107.7V952H116V945.7H153.6V940.1H157.8V927.4H157.8" fill="none" stroke="#1f77b4" stroke-width="2" stroke-linejoin="miter"/>
<path d="M77.3,1090H77.3V1090H79.8V1033.3H80.5V1027.2H84.2V1021.1H87.6V1008.3H89.5V990H95.1V972H100.6V963H103V952H133.4V940.1H155.4V934.2H193.3V927.4H193.3" fill="none" stroke="#ff7f0e" stroke-width="2" stroke-linejoin="miter"/>
<path d="M77.33,1220.5H78.5V1160H81.2V1093.6H82.5V1074.6H85.9V1036H88.6V1027.9H89.9V1000H90.6V971.7H97.1V959.1H112.9V946.5H123.5V940.5H147.7V934.2H182V927.4H182" fill="none" stroke="#2ca02c" stroke-width="2" stroke-linejoin="miter"/>
<path d="M77.3,927.4H77.3V927.4H77.3" fill="none" stroke="#d62728" stroke-width="2" stroke-linejoin="miter"/>
<path d="M77.3,960H77.3V960H78.6V940.1H82.9V933.8H96.7V927.4H96.7" fill="none" stroke="#9467bd" stroke-width="2" stroke-linejoin="miter"/>
<path d="M77.3,927.4H77.3V927.4H77.3" fill="none" stroke="#8c564b" stroke-width="2" stroke-linejoin="miter"/>
<path d="M77.3,927.4H77.3V927.4H77.3" fill="none" stroke="#e377c2" stroke-width="2" stroke-linejoin="miter"/>
<path d="M77.3,927.4H77.3V927.4H77.3" fill="none" stroke="#7f7f7f" stroke-width="2" stroke-linejoin="miter"/>
<path d="M77.3,1180H77.3V1180H81.8V1101.7H84.6V1034H88V1027H91.7V1015H92V977.2H99.9V965H114.4V959H117.6V952.4H130.2V939.8H137.3V933.8H149.6V927.4H149.6" fill="none" stroke="#bcbd22" stroke-width="2" stroke-linejoin="miter"/>
<path d="M77.33,1220.5H77.3V927.4H470" fill="none" stroke="#17becf" stroke-width="2" stroke-linejoin="miter"/>
</g>
<rect x="188.2" y="1008.1" width="274.1" height="206.4" rx="3" fill="#fff" stroke="#d4d4d4" stroke-width="1.2"/>
<line x1="192.6" y1="1017.3" x2="216.8" y2="1017.3" stroke="#ff1493" stroke-width="4.5" stroke-dasharray="4.5 7.7"/>
<text x="224.86" y="1021.5" font-size="12.0" textLength="229.04" lengthAdjust="spacingAndGlyphs">micro-average ROC curve (area = 0.99)</text>
<line x1="192.6" y1="1034.25" x2="216.8" y2="1034.25" stroke="#000080" stroke-width="4.5" stroke-dasharray="4.5 7.7"/>
<text x="224.86" y="1038.45" font-size="12.0" textLength="232.82" lengthAdjust="spacingAndGlyphs">macro-average ROC curve (area = 0.99)</text>
<line x1="192" y1="1051.2" x2="216.8" y2="1051.2" stroke="#1f77b4" stroke-width="2"/>
<text x="224.63" y="1055.4" font-size="12.0" textLength="200.16" lengthAdjust="spacingAndGlyphs">ROC curve of class 0 (area = 0.97)</text>
<line x1="192" y1="1068.15" x2="216.8" y2="1068.15" stroke="#ff7f0e" stroke-width="2"/>
<text x="224.63" y="1072.35" font-size="12.0" textLength="200.16" lengthAdjust="spacingAndGlyphs">ROC curve of class 1 (area = 0.97)</text>
<line x1="192" y1="1085.1" x2="216.8" y2="1085.1" stroke="#2ca02c" stroke-width="2"/>
<text x="224.63" y="1089.3" font-size="12.0" textLength="200.16" lengthAdjust="spacingAndGlyphs">ROC curve of class 2 (area = 0.97)</text>
<line x1="192" y1="1102.05" x2="216.8" y2="1102.05" stroke="#d62728" stroke-width="2"/>
<text x="224.63" y="1106.25" font-size="12.0" textLength="200.16" lengthAdjust="spacingAndGlyphs">ROC curve of class 3 (area = 1.00)</text>
<line x1="192" y1="1119" x2="216.8" y2="1119" stroke="#9467bd" stroke-width="2"/>
<text x="224.63" y="1123.2" font-size="12.0" textLength="200.16" lengthAdjust="spacingAndGlyphs">ROC curve of class 4 (area = 1.00)</text>
<line x1="192" y1="1135.95" x2="216.8" y2="1135.95" stroke="#8c564b" stroke-width="2"/>
<text x="224.63" y="1140.15" font-size="12.0" textLength="200.16" lengthAdjust="spacingAndGlyphs">ROC curve of class 5 (area = 1.00)</text>
<line x1="192" y1="1152.9" x2="216.8" y2="1152.9" stroke="#e377c2" stroke-width="2"/>
<text x="224.63" y="1157.1" font-size="12.0" textLength="200.16" lengthAdjust="spacingAndGlyphs">ROC curve of class 6 (area = 1.00)</text>
<line x1="192" y1="1169.85" x2="216.8" y2="1169.85" stroke="#7f7f7f" stroke-width="2"/>
<text x="224.63" y="1174.05" font-size="12.0" textLength="200.16" lengthAdjust="spacingAndGlyphs">ROC curve of class 7 (area = 1.00)</text>
<line x1="192" y1="1186.8" x2="216.8" y2="1186.8" stroke="#bcbd22" stroke-width="2"/>
<text x="224.63" y="1191" font-size="12.0" textLength="200.16" lengthAdjust="spacingAndGlyphs">ROC curve of class 8 (area = 0.97)</text>
<line x1="192" y1="1203.75" x2="216.8" y2="1203.75" stroke="#17becf" stroke-width="2"/>
<text x="224.63" y="1207.95" font-size="12.0" textLength="200.16" lengthAdjust="spacingAndGlyphs">ROC curve of class 9 (area = 1.00)</text>
<rect x="57.8" y="912.8" width="410.2" height="307.7" fill="none" stroke="#555" stroke-width="1.4"/>
<line x1="77.33" y1="1220.5" x2="77.33" y2="1224.4" stroke="#555" stroke-width="1.4"/>
<text x="63.91" y="1242" font-size="17.9" textLength="26.85" lengthAdjust="spacingAndGlyphs">0.0</text>
<line x1="53.9" y1="1220.5" x2="57.8" y2="1220.5" stroke="#555" stroke-width="1.4"/>
<text x="21.88" y="1227.1" font-size="17.9" textLength="26.85" lengthAdjust="spacingAndGlyphs">0.0</text>
<line x1="155.47" y1="1220.5" x2="155.47" y2="1224.4" stroke="#555" stroke-width="1.4"/>
<text x="142.04" y="1242" font-size="17.9" textLength="27.06" lengthAdjust="spacingAndGlyphs">0.2</text>
<line x1="53.9" y1="1161.89" x2="57.8" y2="1161.89" stroke="#555" stroke-width="1.4"/>
<text x="21.87" y="1168.49" font-size="17.9" textLength="27.06" lengthAdjust="spacingAndGlyphs">0.2</text>
<line x1="233.6" y1="1220.5" x2="233.6" y2="1224.4" stroke="#555" stroke-width="1.4"/>
<text x="220.18" y="1242" font-size="17.9" textLength="26.65" lengthAdjust="spacingAndGlyphs">0.4</text>
<line x1="53.9" y1="1103.28" x2="57.8" y2="1103.28" stroke="#555" stroke-width="1.4"/>
<text x="21.88" y="1109.88" font-size="17.9" textLength="26.65" lengthAdjust="spacingAndGlyphs">0.4</text>
<line x1="311.73" y1="1220.5" x2="311.73" y2="1224.4" stroke="#555" stroke-width="1.4"/>
<text x="298.31" y="1242" font-size="17.9" textLength="26.95" lengthAdjust="spacingAndGlyphs">0.6</text>
<line x1="53.9" y1="1044.67" x2="57.8" y2="1044.67" stroke="#555" stroke-width="1.4"/>
<text x="21.87" y="1051.27" font-size="17.9" textLength="26.95" lengthAdjust="spacingAndGlyphs">0.6</text>
<line x1="389.87" y1="1220.5" x2="389.87" y2="1224.4" stroke="#555" stroke-width="1.4"/>
<text x="376.44" y="1242" font-size="17.9" textLength="26.95" lengthAdjust="spacingAndGlyphs">0.8</text>
<line x1="53.9" y1="986.06" x2="57.8" y2="986.06" stroke="#555" stroke-width="1.4"/>
<text x="21.87" y="992.66" font-size="17.9" textLength="26.95" lengthAdjust="spacingAndGlyphs">0.8</text>
<line x1="468" y1="1220.5" x2="468" y2="1224.4" stroke="#555" stroke-width="1.4"/>
<text x="454.69" y="1242" font-size="17.9" textLength="27.1" lengthAdjust="spacingAndGlyphs">1.0</text>
<line x1="53.9" y1="927.45" x2="57.8" y2="927.45" stroke="#555" stroke-width="1.4"/>
<text x="22.06" y="934.05" font-size="17.9" textLength="26.66" lengthAdjust="spacingAndGlyphs">1.0</text>
<text x="157.82" y="905.8" font-size="17.9" textLength="208.57" lengthAdjust="spacingAndGlyphs">ROC for multi-class data</text>
<text x="182.56" y="1263.1" font-size="17.9" textLength="160.33" lengthAdjust="spacingAndGlyphs">False Positive Rate</text>
<text x="-77.07" y="0" font-size="17.9" textLength="154.55" lengthAdjust="spacingAndGlyphs" transform="translate(13.5 1067.25) rotate(-90)">True Positive Rate</text>
<text x="176" y="1314.6" class="cap" font-size="33.8" fill="#000">(e) RF</text>
<clipPath id="clipf"><rect x="589.7" y="913" width="410.8" height="307.6"/></clipPath>
<g clip-path="url(#clipf)">
<line x1="609.26" y1="1220.6" x2="1000.5" y2="927.65" stroke="#000" stroke-width="1.9" stroke-dasharray="5.8 3.25"/>
<path d="M609.3,1220.6 L609.3,960" fill="none" stroke="#ff1493" stroke-width="4.5" stroke-dasharray="4.5 7.7"/>
<path d="M609.3,960 L610.5,940 L614,933 L620,930.5 L640,930 L700,929.5 L705,926.9 L1001,926.9" fill="none" stroke="#ff1493" stroke-width="4.5" stroke-dasharray="4.5 7.7" stroke-dashoffset="8.99"/>
<path d="M609.4,988 L610,960 L611,945 L614,936 L620,932 L630,930.5 L700,930.5 L703,926.9 L1001,926.9" fill="none" stroke="#000080" stroke-width="4.5" stroke-dasharray="4.5 7.7" stroke-dashoffset="10.96"/>
<path d="M609.26,1220.6H609.8V990H612V946H620.7V939.9H623V933H625V926.9H625" fill="none" stroke="#1f77b4" stroke-width="2" stroke-linejoin="miter"/>
<path d="M609.26,1220.6H611.2V950H614.5V926.9H614.5" fill="none" stroke="#ff7f0e" stroke-width="2" stroke-linejoin="miter"/>
<path d="M609.3,985H609.3V985H611V972H612.5V960H614V950H615.8V940.1H627.2V935H630.3V926.9H630.3" fill="none" stroke="#2ca02c" stroke-width="2" stroke-linejoin="miter"/>
<path d="M609.3,932.8H609.3V926.9H613" fill="none" stroke="#d62728" stroke-width="2" stroke-linejoin="miter"/>
<path d="M609.3,975H609.3V975H614.2V952.9H629.6V946.4H659.2V939.9H688.8V933.9H703.6V926.9H703.6" fill="none" stroke="#9467bd" stroke-width="2" stroke-linejoin="miter"/>
<path d="M609.3,932.8H609.3V926.9H613" fill="none" stroke="#8c564b" stroke-width="2" stroke-linejoin="miter"/>
<path d="M609.3,932.8H609.3V926.9H613" fill="none" stroke="#e377c2" stroke-width="2" stroke-linejoin="miter"/>
<path d="M609.3,932.8H609.3V926.9H613" fill="none" stroke="#7f7f7f" stroke-width="2" stroke-linejoin="miter"/>
<path d="M609.3,990H609.3V990H612.8V933.9H695.3V926.9H695.3" fill="none" stroke="#bcbd22" stroke-width="2" stroke-linejoin="miter"/>
<path d="M609.26,1220.6H609.3V932.8H613V926.9H1002.5" fill="none" stroke="#17becf" stroke-width="2" stroke-linejoin="miter"/>
</g>
<rect x="720.1" y="1008.3" width="274.7" height="206.3" rx="3" fill="#fff" stroke="#d4d4d4" stroke-width="1.2"/>
<line x1="724.5" y1="1017.5" x2="748.7" y2="1017.5" stroke="#ff1493" stroke-width="4.5" stroke-dasharray="4.5 7.7"/>
<text x="756.76" y="1021.7" font-size="12.0" textLength="229.04" lengthAdjust="spacingAndGlyphs">micro-average ROC curve (area = 1.00)</text>
<line x1="724.5" y1="1034.45" x2="748.7" y2="1034.45" stroke="#000080" stroke-width="4.5" stroke-dasharray="4.5 7.7"/>
<text x="756.76" y="1038.65" font-size="12.0" textLength="232.82" lengthAdjust="spacingAndGlyphs">macro-average ROC curve (area = 1.00)</text>
<line x1="723.9" y1="1051.4" x2="748.7" y2="1051.4" stroke="#1f77b4" stroke-width="2"/>
<text x="756.53" y="1055.6" font-size="12.0" textLength="200.16" lengthAdjust="spacingAndGlyphs">ROC curve of class 0 (area = 1.00)</text>
<line x1="723.9" y1="1068.35" x2="748.7" y2="1068.35" stroke="#ff7f0e" stroke-width="2"/>
<text x="756.53" y="1072.55" font-size="12.0" textLength="200.16" lengthAdjust="spacingAndGlyphs">ROC curve of class 1 (area = 1.00)</text>
<line x1="723.9" y1="1085.3" x2="748.7" y2="1085.3" stroke="#2ca02c" stroke-width="2"/>
<text x="756.53" y="1089.5" font-size="12.0" textLength="200.16" lengthAdjust="spacingAndGlyphs">ROC curve of class 2 (area = 0.99)</text>
<line x1="723.9" y1="1102.25" x2="748.7" y2="1102.25" stroke="#d62728" stroke-width="2"/>
<text x="756.53" y="1106.45" font-size="12.0" textLength="200.16" lengthAdjust="spacingAndGlyphs">ROC curve of class 3 (area = 1.00)</text>
<line x1="723.9" y1="1119.2" x2="748.7" y2="1119.2" stroke="#9467bd" stroke-width="2"/>
<text x="756.53" y="1123.4" font-size="12.0" textLength="200.16" lengthAdjust="spacingAndGlyphs">ROC curve of class 4 (area = 0.99)</text>
<line x1="723.9" y1="1136.15" x2="748.7" y2="1136.15" stroke="#8c564b" stroke-width="2"/>
<text x="756.53" y="1140.35" font-size="12.0" textLength="200.16" lengthAdjust="spacingAndGlyphs">ROC curve of class 5 (area = 1.00)</text>
<line x1="723.9" y1="1153.1" x2="748.7" y2="1153.1" stroke="#e377c2" stroke-width="2"/>
<text x="756.53" y="1157.3" font-size="12.0" textLength="200.16" lengthAdjust="spacingAndGlyphs">ROC curve of class 6 (area = 1.00)</text>
<line x1="723.9" y1="1170.05" x2="748.7" y2="1170.05" stroke="#7f7f7f" stroke-width="2"/>
<text x="756.53" y="1174.25" font-size="12.0" textLength="200.16" lengthAdjust="spacingAndGlyphs">ROC curve of class 7 (area = 1.00)</text>
<line x1="723.9" y1="1187" x2="748.7" y2="1187" stroke="#bcbd22" stroke-width="2"/>
<text x="756.53" y="1191.2" font-size="12.0" textLength="200.16" lengthAdjust="spacingAndGlyphs">ROC curve of class 8 (area = 0.99)</text>
<line x1="723.9" y1="1203.95" x2="748.7" y2="1203.95" stroke="#17becf" stroke-width="2"/>
<text x="756.53" y="1208.15" font-size="12.0" textLength="200.16" lengthAdjust="spacingAndGlyphs">ROC curve of class 9 (area = 1.00)</text>
<rect x="589.7" y="913" width="410.8" height="307.6" fill="none" stroke="#555" stroke-width="1.4"/>
<line x1="609.26" y1="1220.6" x2="609.26" y2="1224.5" stroke="#555" stroke-width="1.4"/>
<text x="595.84" y="1242.1" font-size="17.9" textLength="26.85" lengthAdjust="spacingAndGlyphs">0.0</text>
<line x1="585.8" y1="1220.6" x2="589.7" y2="1220.6" stroke="#555" stroke-width="1.4"/>
<text x="553.78" y="1227.2" font-size="17.9" textLength="26.85" lengthAdjust="spacingAndGlyphs">0.0</text>
<line x1="687.51" y1="1220.6" x2="687.51" y2="1224.5" stroke="#555" stroke-width="1.4"/>
<text x="674.08" y="1242.1" font-size="17.9" textLength="27.06" lengthAdjust="spacingAndGlyphs">0.2</text>
<line x1="585.8" y1="1162.01" x2="589.7" y2="1162.01" stroke="#555" stroke-width="1.4"/>
<text x="553.77" y="1168.61" font-size="17.9" textLength="27.06" lengthAdjust="spacingAndGlyphs">0.2</text>
<line x1="765.76" y1="1220.6" x2="765.76" y2="1224.5" stroke="#555" stroke-width="1.4"/>
<text x="752.34" y="1242.1" font-size="17.9" textLength="26.65" lengthAdjust="spacingAndGlyphs">0.4</text>
<line x1="585.8" y1="1103.42" x2="589.7" y2="1103.42" stroke="#555" stroke-width="1.4"/>
<text x="553.78" y="1110.02" font-size="17.9" textLength="26.65" lengthAdjust="spacingAndGlyphs">0.4</text>
<line x1="844" y1="1220.6" x2="844" y2="1224.5" stroke="#555" stroke-width="1.4"/>
<text x="830.58" y="1242.1" font-size="17.9" textLength="26.95" lengthAdjust="spacingAndGlyphs">0.6</text>
<line x1="585.8" y1="1044.83" x2="589.7" y2="1044.83" stroke="#555" stroke-width="1.4"/>
<text x="553.77" y="1051.43" font-size="17.9" textLength="26.95" lengthAdjust="spacingAndGlyphs">0.6</text>
<line x1="922.25" y1="1220.6" x2="922.25" y2="1224.5" stroke="#555" stroke-width="1.4"/>
<text x="908.83" y="1242.1" font-size="17.9" textLength="26.95" lengthAdjust="spacingAndGlyphs">0.8</text>
<line x1="585.8" y1="986.24" x2="589.7" y2="986.24" stroke="#555" stroke-width="1.4"/>
<text x="553.77" y="992.84" font-size="17.9" textLength="26.95" lengthAdjust="spacingAndGlyphs">0.8</text>
<line x1="1000.5" y1="1220.6" x2="1000.5" y2="1224.5" stroke="#555" stroke-width="1.4"/>
<text x="987.19" y="1242.1" font-size="17.9" textLength="27.1" lengthAdjust="spacingAndGlyphs">1.0</text>
<line x1="585.8" y1="927.65" x2="589.7" y2="927.65" stroke="#555" stroke-width="1.4"/>
<text x="553.96" y="934.25" font-size="17.9" textLength="26.66" lengthAdjust="spacingAndGlyphs">1.0</text>
<text x="690.02" y="906" font-size="17.9" textLength="208.57" lengthAdjust="spacingAndGlyphs">ROC for multi-class data</text>
<text x="714.76" y="1263.2" font-size="17.9" textLength="160.33" lengthAdjust="spacingAndGlyphs">False Positive Rate</text>
<text x="-77.07" y="0" font-size="17.9" textLength="154.55" lengthAdjust="spacingAndGlyphs" transform="translate(545.4 1067.4) rotate(-90)">True Positive Rate</text>
<text x="726.9" y="1314.6" class="cap" font-size="33.8" fill="#000">(f) RPM</text>
<clipPath id="clipg"><rect x="323.8" y="1351.5" width="410.2" height="306.8"/></clipPath>
<g clip-path="url(#clipg)">
<line x1="343.33" y1="1658.3" x2="734" y2="1366.11" stroke="#000" stroke-width="1.9" stroke-dasharray="5.8 3.25"/>
<path d="M343.3,1658.3 L343.3,1366" fill="none" stroke="#ff1493" stroke-width="4.5" stroke-dasharray="4.5 7.7"/>
<path d="M343.3,1366 L735,1366" fill="none" stroke="#ff1493" stroke-width="4.5" stroke-dasharray="4.5 7.7" stroke-dashoffset="10.6"/>
<path d="M343.3,1366 L735,1366" fill="none" stroke="#000080" stroke-width="4.5" stroke-dasharray="4.5 7.7" stroke-dashoffset="1.9"/>
<path d="M343.3,1366.1H343.3V1366.1H343.3" fill="none" stroke="#1f77b4" stroke-width="2" stroke-linejoin="miter"/>
<path d="M343.3,1385H343.3V1385H344.3V1378H345.4V1366.1H345.4" fill="none" stroke="#ff7f0e" stroke-width="2" stroke-linejoin="miter"/>
<path d="M343.3,1366.1H343.3V1366.1H343.3" fill="none" stroke="#2ca02c" stroke-width="2" stroke-linejoin="miter"/>
<path d="M343.3,1366.1H343.3V1366.1H343.3" fill="none" stroke="#d62728" stroke-width="2" stroke-linejoin="miter"/>
<path d="M343.3,1366.1H343.3V1366.1H343.3" fill="none" stroke="#9467bd" stroke-width="2" stroke-linejoin="miter"/>
<path d="M343.3,1366.1H343.3V1366.1H343.3" fill="none" stroke="#8c564b" stroke-width="2" stroke-linejoin="miter"/>
<path d="M343.3,1366.1H343.3V1366.1H343.3" fill="none" stroke="#e377c2" stroke-width="2" stroke-linejoin="miter"/>
<path d="M343.3,1366.1H343.3V1366.1H343.3" fill="none" stroke="#7f7f7f" stroke-width="2" stroke-linejoin="miter"/>
<path d="M343.3,1366.1H343.3V1366.1H343.3" fill="none" stroke="#bcbd22" stroke-width="2" stroke-linejoin="miter"/>
<path d="M343.33,1658.3H343.3V1366.1H736" fill="none" stroke="#17becf" stroke-width="2" stroke-linejoin="miter"/>
</g>
<rect x="454.2" y="1446.8" width="274.1" height="205.5" rx="3" fill="#fff" stroke="#d4d4d4" stroke-width="1.2"/>
<line x1="458.6" y1="1456" x2="482.8" y2="1456" stroke="#ff1493" stroke-width="4.5" stroke-dasharray="4.5 7.7"/>
<text x="490.86" y="1460.2" font-size="12.0" textLength="229.04" lengthAdjust="spacingAndGlyphs">micro-average ROC curve (area = 1.00)</text>
<line x1="458.6" y1="1472.95" x2="482.8" y2="1472.95" stroke="#000080" stroke-width="4.5" stroke-dasharray="4.5 7.7"/>
<text x="490.86" y="1477.15" font-size="12.0" textLength="232.82" lengthAdjust="spacingAndGlyphs">macro-average ROC curve (area = 1.00)</text>
<line x1="458" y1="1489.9" x2="482.8" y2="1489.9" stroke="#1f77b4" stroke-width="2"/>
<text x="490.63" y="1494.1" font-size="12.0" textLength="200.16" lengthAdjust="spacingAndGlyphs">ROC curve of class 0 (area = 1.00)</text>
<line x1="458" y1="1506.85" x2="482.8" y2="1506.85" stroke="#ff7f0e" stroke-width="2"/>
<text x="490.63" y="1511.05" font-size="12.0" textLength="200.16" lengthAdjust="spacingAndGlyphs">ROC curve of class 1 (area = 1.00)</text>
<line x1="458" y1="1523.8" x2="482.8" y2="1523.8" stroke="#2ca02c" stroke-width="2"/>
<text x="490.63" y="1528" font-size="12.0" textLength="200.16" lengthAdjust="spacingAndGlyphs">ROC curve of class 2 (area = 1.00)</text>
<line x1="458" y1="1540.75" x2="482.8" y2="1540.75" stroke="#d62728" stroke-width="2"/>
<text x="490.63" y="1544.95" font-size="12.0" textLength="200.16" lengthAdjust="spacingAndGlyphs">ROC curve of class 3 (area = 1.00)</text>
<line x1="458" y1="1557.7" x2="482.8" y2="1557.7" stroke="#9467bd" stroke-width="2"/>
<text x="490.63" y="1561.9" font-size="12.0" textLength="200.16" lengthAdjust="spacingAndGlyphs">ROC curve of class 4 (area = 1.00)</text>
<line x1="458" y1="1574.65" x2="482.8" y2="1574.65" stroke="#8c564b" stroke-width="2"/>
<text x="490.63" y="1578.85" font-size="12.0" textLength="200.16" lengthAdjust="spacingAndGlyphs">ROC curve of class 5 (area = 1.00)</text>
<line x1="458" y1="1591.6" x2="482.8" y2="1591.6" stroke="#e377c2" stroke-width="2"/>
<text x="490.63" y="1595.8" font-size="12.0" textLength="200.16" lengthAdjust="spacingAndGlyphs">ROC curve of class 6 (area = 1.00)</text>
<line x1="458" y1="1608.55" x2="482.8" y2="1608.55" stroke="#7f7f7f" stroke-width="2"/>
<text x="490.63" y="1612.75" font-size="12.0" textLength="200.16" lengthAdjust="spacingAndGlyphs">ROC curve of class 7 (area = 1.00)</text>
<line x1="458" y1="1625.5" x2="482.8" y2="1625.5" stroke="#bcbd22" stroke-width="2"/>
<text x="490.63" y="1629.7" font-size="12.0" textLength="200.16" lengthAdjust="spacingAndGlyphs">ROC curve of class 8 (area = 1.00)</text>
<line x1="458" y1="1642.45" x2="482.8" y2="1642.45" stroke="#17becf" stroke-width="2"/>
<text x="490.63" y="1646.65" font-size="12.0" textLength="200.16" lengthAdjust="spacingAndGlyphs">ROC curve of class 9 (area = 1.00)</text>
<rect x="323.8" y="1351.5" width="410.2" height="306.8" fill="none" stroke="#555" stroke-width="1.4"/>
<line x1="343.33" y1="1658.3" x2="343.33" y2="1662.2" stroke="#555" stroke-width="1.4"/>
<text x="329.91" y="1679.8" font-size="17.9" textLength="26.85" lengthAdjust="spacingAndGlyphs">0.0</text>
<line x1="319.9" y1="1658.3" x2="323.8" y2="1658.3" stroke="#555" stroke-width="1.4"/>
<text x="287.88" y="1664.9" font-size="17.9" textLength="26.85" lengthAdjust="spacingAndGlyphs">0.0</text>
<line x1="421.47" y1="1658.3" x2="421.47" y2="1662.2" stroke="#555" stroke-width="1.4"/>
<text x="408.04" y="1679.8" font-size="17.9" textLength="27.06" lengthAdjust="spacingAndGlyphs">0.2</text>
<line x1="319.9" y1="1599.86" x2="323.8" y2="1599.86" stroke="#555" stroke-width="1.4"/>
<text x="287.87" y="1606.46" font-size="17.9" textLength="27.06" lengthAdjust="spacingAndGlyphs">0.2</text>
<line x1="499.6" y1="1658.3" x2="499.6" y2="1662.2" stroke="#555" stroke-width="1.4"/>
<text x="486.18" y="1679.8" font-size="17.9" textLength="26.65" lengthAdjust="spacingAndGlyphs">0.4</text>
<line x1="319.9" y1="1541.42" x2="323.8" y2="1541.42" stroke="#555" stroke-width="1.4"/>
<text x="287.88" y="1548.02" font-size="17.9" textLength="26.65" lengthAdjust="spacingAndGlyphs">0.4</text>
<line x1="577.73" y1="1658.3" x2="577.73" y2="1662.2" stroke="#555" stroke-width="1.4"/>
<text x="564.31" y="1679.8" font-size="17.9" textLength="26.95" lengthAdjust="spacingAndGlyphs">0.6</text>
<line x1="319.9" y1="1482.99" x2="323.8" y2="1482.99" stroke="#555" stroke-width="1.4"/>
<text x="287.87" y="1489.59" font-size="17.9" textLength="26.95" lengthAdjust="spacingAndGlyphs">0.6</text>
<line x1="655.87" y1="1658.3" x2="655.87" y2="1662.2" stroke="#555" stroke-width="1.4"/>
<text x="642.44" y="1679.8" font-size="17.9" textLength="26.95" lengthAdjust="spacingAndGlyphs">0.8</text>
<line x1="319.9" y1="1424.55" x2="323.8" y2="1424.55" stroke="#555" stroke-width="1.4"/>
<text x="287.87" y="1431.15" font-size="17.9" textLength="26.95" lengthAdjust="spacingAndGlyphs">0.8</text>
<line x1="734" y1="1658.3" x2="734" y2="1662.2" stroke="#555" stroke-width="1.4"/>
<text x="720.69" y="1679.8" font-size="17.9" textLength="27.1" lengthAdjust="spacingAndGlyphs">1.0</text>
<line x1="319.9" y1="1366.11" x2="323.8" y2="1366.11" stroke="#555" stroke-width="1.4"/>
<text x="288.06" y="1372.71" font-size="17.9" textLength="26.66" lengthAdjust="spacingAndGlyphs">1.0</text>
<text x="423.82" y="1344.5" font-size="17.9" textLength="208.57" lengthAdjust="spacingAndGlyphs">ROC for multi-class data</text>
<text x="448.56" y="1700.9" font-size="17.9" textLength="160.33" lengthAdjust="spacingAndGlyphs">False Positive Rate</text>
<text x="-77.07" y="0" font-size="17.9" textLength="154.55" lengthAdjust="spacingAndGlyphs" transform="translate(279.5 1505.5) rotate(-90)">True Positive Rate</text>
<text x="432.4" y="1765.5" class="cap" font-size="33.8" fill="#000">(g) MPEGIC</text>
</svg>
</body></html>
